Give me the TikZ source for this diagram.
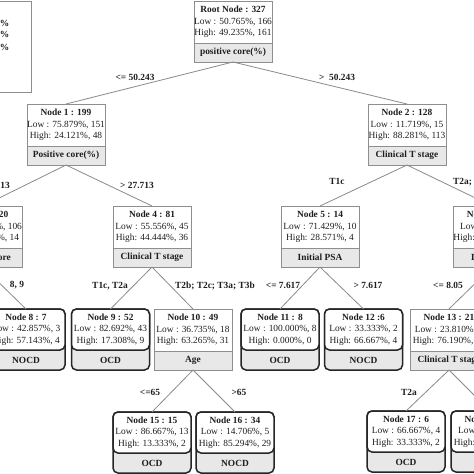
\documentclass[tikz,border=0pt]{standalone}
\usepackage{fontspec}
\setmainfont{Liberation Serif}
\definecolor{boxgray}{HTML}{8E8E8E}
\definecolor{labgray}{HTML}{E8E8E8}
\definecolor{edgegray}{HTML}{8A8A8A}
\definecolor{txtc}{HTML}{1E1E1E}
\tikzset{
 inbox/.style={draw=boxgray, line width=0.9pt},
 leafbox/.style={draw=black!85, line width=1.5pt, rounded corners=5pt},
 bodytxt/.style={align=center, inner sep=0pt, text=txtc, font=\fontsize{9.4}{11.6}\selectfont},
 labtxt/.style={inner sep=0pt, text=txtc, font=\fontsize{9.4}{11.6}\selectfont\bfseries},
 edge/.style={draw=edgegray, line width=0.8pt},
 elabel/.style={inner sep=0pt, text=txtc, font=\fontsize{9.4}{11.6}\selectfont\bfseries},
 hook/.style={inner sep=0pt, outer sep=0pt, minimum width=78pt, minimum height=61pt},
}
\newcommand{\innode}[7]{%
 \fill[labgray] (#2-39,#3+42) rectangle (#2+39,#3+61);
 \draw[inbox] (#2-39,#3) rectangle (#2+39,#3+61);
 \draw[inbox] (#2-39,#3+42) -- (#2+39,#3+42);
 \node[hook] (#1) at (#2,#3+30.5) {};
 \node[bodytxt] (#1-t) at (#2,#3+21) {\textbf{#4}\\#5\\#6};
 \node[labtxt] (#1-l) at (#2,#3+51.5) {#7};
}
\newcommand{\leafnode}[7]{%
 \draw[leafbox, fill=labgray] (#2-39,#3) rectangle (#2+39,#3+61);
 \draw[leafbox, fill=white] (#2-39,#3) rectangle (#2+39,#3+41);
 \node[hook] (#1) at (#2,#3+30.5) {};
 \node[bodytxt] (#1-t) at (#2,#3+20.5) {\textbf{#4}\\#5\\#6};
 \node[labtxt] (#1-l) at (#2,#3+51.5) {#7};
}
\begin{document}
\begin{tikzpicture}[x=1pt,y=-1pt]
\useasboundingbox (0,0) rectangle (474,474);
\clip (0,0) rectangle (474,474);
\fill[white] (0,0) rectangle (474,474);
% legend (cut off)
\draw[inbox] (-70,1) rectangle (31,92);
\node[elabel, anchor=east] (lg1) at (9.5,23) {Low: 50.765\%};
\node[elabel, anchor=east] (lg2) at (9.5,35) {High: 49.235\%};
\node[elabel, anchor=east] (lg3) at (9.5,47) {Total: 100.000\%};
% internal nodes
\innode{root}{233}{1}{Root Node : 327}{Low : 50.765\%, 166}{High: 49.235\%, 161}{positive core(\%)}
\innode{n1}{66}{104}{Node 1 : 199}{Low : 75.879\%, 151}{High: 24.121\%, 48}{Positive core(\%)}
\innode{n2}{407}{104}{Node 2 : 128}{Low : 11.719\%, 15}{High: 88.281\%, 113}{Clinical T stage}
\innode{n3}{-17}{206}{Node 3 : 120}{Low : 88.333\%, 106}{High: 11.667\%, 14}{Gleason score}
\innode{n4}{152}{206}{Node 4 : 81}{Low : 55.556\%, 45}{High: 44.444\%, 36}{Clinical T stage}
\innode{n5}{320}{206}{Node 5 : 14}{Low : 71.429\%, 10}{High: 28.571\%, 4}{Initial PSA}
\innode{n6}{492}{206}{Node 6 : 114}{Low : 4.386\%, 5}{High: 95.614\%, 109}{Delta PSA}
\innode{n10}{193}{309}{Node 10 : 49}{Low : 36.735\%, 18}{High: 63.265\%, 31}{Age}
\innode{n13}{449}{309}{Node 13 : 21}{Low : 23.810\%, 5}{High: 76.190\%, 16}{Clinical T stage}
% leaves
\leafnode{n8}{26}{309}{Node 8 : 7}{Low : 42.857\%, 3}{High: 57.143\%, 4}{NOCD}
\leafnode{n9}{110.5}{309}{Node 9 : 52}{Low : 82.692\%, 43}{High: 17.308\%, 9}{OCD}
\leafnode{n11}{280}{309}{Node 11 : 8}{Low : 100.000\%, 8}{High: 0.000\%, 0}{OCD}
\leafnode{n12}{363.5}{309}{Node 12 :6}{Low : 33.333\%, 2}{High: 66.667\%, 4}{NOCD}
\leafnode{n15}{152}{412}{Node 15 : 15}{Low : 86.667\%, 13}{High: 13.333\%, 2}{OCD}
\leafnode{n16}{235}{412}{Node 16 : 34}{Low : 14.706\%, 5}{High: 85.294\%, 29}{NOCD}
\leafnode{n17}{406}{411}{Node 17 : 6}{Low : 66.667\%, 4}{High: 33.333\%, 2}{OCD}
\leafnode{n18}{490}{411}{Node 18 : 15}{Low : 6.667\%, 1}{High: 93.333\%, 14}{NOCD}
% edges
\draw[edge] (root.south) -- (n1.north);
\draw[edge] (root.south) -- (n2.north);
\draw[edge] (n1.south) -- (n3.north);
\draw[edge] (n1.south) -- (n4.north);
\draw[edge] (n2.south) -- (n5.north);
\draw[edge] (n2.south) -- (n6.north);
\draw[edge] (n3.south) -- (n8.north);
\draw[edge] (n4.south) -- (n9.north);
\draw[edge] (n4.south) -- (n10.north);
\draw[edge] (n5.south) -- (n11.north);
\draw[edge] (n5.south) -- (n12.north);
\draw[edge] (n6.south) -- (n13.north);
\draw[edge] (n10.south) -- (n15.north);
\draw[edge] (n10.south) -- (n16.north);
\draw[edge] (n13.south) -- (n17.north);
\draw[edge] (n13.south) -- (n18.north);
% edge labels
\node[elabel] (e1) at (135,77) {<= 50.243};
\node[elabel] (e2) at (337,77) {> \ 50.243};
\node[elabel, anchor=east] (e3) at (10,185) {<= 27.713};
\node[elabel] (e4) at (137,185) {> 27.713};
\node[elabel] (e5) at (337,181) {T1c};
\node[elabel, anchor=west] (e6) at (453,182) {T2a; T2b; T2c; T3a; T3b};
\node[elabel] (e7) at (17,285) {8, 9};
\node[elabel] (e8) at (110,286) {T1c, T2a};
\node[elabel] (e9) at (215,286) {T2b; T2c; T3a; T3b};
\node[elabel] (e10) at (283,285) {<= 7.617};
\node[elabel] (e11) at (368,285) {> 7.617};
\node[elabel] (e12) at (448,285) {<= 8.05};
\node[elabel] (e13) at (150,392) {<=65};
\node[elabel] (e14) at (239,392) {>65};
\node[elabel] (e15) at (409,392) {T2a};
\end{tikzpicture}
\end{document}
